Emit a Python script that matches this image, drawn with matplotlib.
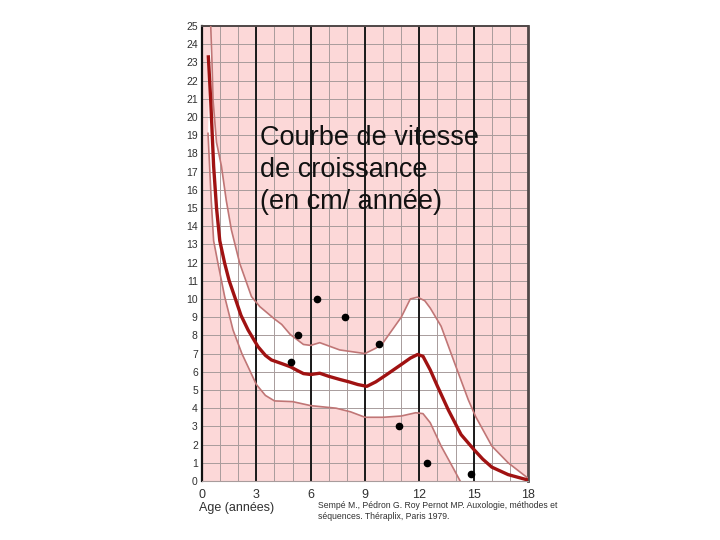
import numpy as np
import matplotlib
matplotlib.use("Agg")
import matplotlib.pyplot as plt

plt.rcParams['font.family'] = ['Liberation Sans', 'DejaVu Sans']

# median growth velocity (cm/year)
ages_med = [0.35, 0.48, 0.64, 0.8, 0.98, 1.25, 1.5, 1.8, 2.15, 2.54, 3.09, 3.5, 3.83,
            4.4, 4.87, 5.3, 5.6, 6.0, 6.5, 7.0, 7.6, 8.1, 8.6, 9.1, 9.6, 10.2, 11.0,
            11.5, 11.9, 12.2, 12.6, 13.0, 13.6, 14.3, 15.0, 15.5, 16.0, 16.9, 18]
med = [23.3, 20.9, 17.3, 15.0, 13.2, 11.96, 11.0, 10.13, 9.1, 8.3, 7.38, 6.9, 6.65,
       6.45, 6.28, 6.05, 5.9, 5.85, 5.92, 5.75, 5.58, 5.45, 5.3, 5.2, 5.45, 5.85, 6.4,
       6.75, 6.95, 6.85, 6.1, 5.2, 3.9, 2.55, 1.74, 1.2, 0.76, 0.35, 0.05]

# upper limit
ages_up = [0.48, 0.55, 0.61, 0.8, 1.07, 1.34, 1.62, 2.08, 2.73, 3.19, 4.0, 4.4, 4.87,
           5.6, 6.0, 6.5, 7.6, 9.0, 9.6, 10.0, 11.0, 11.5, 11.9, 12.3, 12.6, 13.2,
           13.9, 14.7, 15.1, 16.0, 16.9, 18]
up = [25, 23, 20.9, 18.6, 17.3, 15.4, 13.8, 11.96, 10.13, 9.58, 8.9, 8.6, 8.05,
      7.5, 7.45, 7.6, 7.2, 7.0, 7.3, 7.6, 9.0, 10.0, 10.1, 9.9, 9.5, 8.5,
      6.6, 4.46, 3.55, 1.92, 1.0, 0.15]

# lower limit
ages_lo = [0.33, 0.51, 0.64, 0.88, 1.25, 1.71, 2.2, 3.0, 3.5, 4.0, 5.0, 6.0, 7.4, 8.2,
           9.0, 10.0, 11.0, 11.8, 12.2, 12.6, 13.2, 13.9, 14.25, 18]
lo = [19.1, 15.4, 13.2, 11.96, 10.13, 8.3, 7.0, 5.3, 4.7, 4.4, 4.36, 4.14, 4.0, 3.8,
      3.5, 3.5, 3.57, 3.75, 3.7, 3.2, 1.92, 0.65, 0.0, 0.0]

# patient measurements
pt_age = [4.9, 5.3, 6.35, 7.9, 9.75, 10.85, 12.4, 14.85]
pt_vel = [6.55, 8.0, 10.0, 9.0, 7.55, 3.0, 1.0, 0.4]

x_ticks = [0, 3, 6, 9, 12, 15, 18]

fig = plt.figure(figsize=(7.2, 5.4), dpi=100)
ax = fig.add_axes([0.2806, 0.1093, 0.4528, 0.8426])
ax.set_facecolor('#fcd8d8')

# white band between the limits
band_x = np.concatenate([ages_up, ages_lo[::-1]])
band_y = np.concatenate([up, lo[::-1]])
ax.fill(band_x, band_y, color='white', zorder=1, lw=0)

# grid
for v in range(0, 19):
    ax.axvline(v, color='#a89c9c', lw=0.7, zorder=2)
for v in range(0, 26):
    ax.axhline(v, color='#a89c9c', lw=0.7, zorder=2)
for v in x_ticks[1:-1]:
    ax.axvline(v, color='#1a1a1a', lw=1.4, zorder=2.5)

n_lo = ages_lo.index(14.25) + 1
ax.plot(ages_up, up, color='#c07676', lw=1.2, zorder=3)
ax.plot(ages_lo[:n_lo], lo[:n_lo], color='#c07676', lw=1.2, zorder=3)
ax.plot(ages_med, med, color='#a01212', lw=2.4, zorder=3.5, solid_joinstyle='round')
ax.plot(pt_age, pt_vel, 'o', color='black', ms=4.5, zorder=4)

ax.set_xlim(0, 18)
ax.set_ylim(0, 25)
ax.set_xticks(x_ticks)
ax.set_yticks(range(0, 26))
ax.tick_params(length=0, colors='#303030')
ax.tick_params(axis='y', labelsize=7.5, pad=3)
ax.tick_params(axis='x', pad=6, labelsize=9)

ax.spines['left'].set_color('#101010')
ax.spines['left'].set_linewidth(1.6)
ax.spines['top'].set_color('#504848')
ax.spines['top'].set_linewidth(1.4)
ax.spines['right'].set_color('#504848')
ax.spines['right'].set_linewidth(2.0)
ax.spines['bottom'].set_color('#a89c9c')
ax.spines['bottom'].set_linewidth(0.8)

fig.text(0.361, 0.768, "Courbe de vitesse\nde croissance\n(en cm/ année)",
         fontsize=19.5, va='top', ha='left', linespacing=1.3, color='#111111')
fig.text(0.276, 0.059, "Age (années)", fontsize=9, va='center', ha='left', color='#303030')
fig.text(0.441, 0.053, "Sempé M., Pédron G. Roy Pernot MP. Auxologie, méthodes et\n"
         "séquences. Théraplix, Paris 1979.",
         fontsize=6.2, va='center', ha='left', color='#303030', linespacing=1.3)

fig.savefig("out.png", dpi=100)
